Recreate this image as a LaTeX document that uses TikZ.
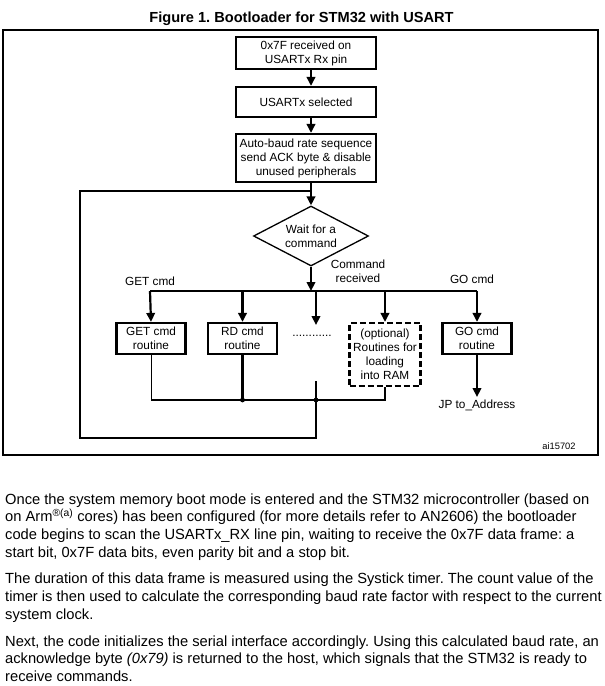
\documentclass[tikz,border=0pt]{standalone}
\usepackage{fontspec}
\setmainfont{Liberation Sans}
\usetikzlibrary{shapes.geometric,arrows.meta}
\newcommand{\dfont}{\fontsize{11.8}{14}\selectfont}
\newcommand{\bfont}{\fontsize{14.7}{18}\selectfont}
\newcommand{\tfont}{\fontsize{14.6}{17}\selectfont\bfseries}
\frenchspacing
\begin{document}
\begin{tikzpicture}[x=1pt,y=-1pt,
  ln/.style={line width=2.2pt},
  thinln/.style={line width=1pt},
  arr/.style={line width=2.2pt,-{Triangle[length=9pt,width=8.5pt]}},
  box/.style={draw,line width=2.2pt,minimum width=140pt,inner sep=0pt,align=center,font=\dfont},
  sbox/.style={draw,line width=2.2pt,minimum width=69pt,minimum height=31pt,inner sep=0pt,align=center,font=\dfont},
  dbox/.style={draw,line width=2.2pt,dash pattern=on 6pt off 3pt,minimum width=71pt,minimum height=63pt,inner sep=0pt,align=center,font=\dfont},
  dia/.style={draw,diamond,aspect=2,line width=1.3pt,minimum width=115pt,minimum height=60pt,inner sep=0pt,align=center,font=\dfont},
  lbl/.style={inner sep=0pt,align=center,font=\dfont},
  para/.style={anchor=base west,inner sep=0pt,font=\bfont}]
\useasboundingbox (0,0) rectangle (605,686);
% title and frame
\node[anchor=base,inner sep=0pt,font=\tfont] (title) at (301.5,22.5) {Figure 1. Bootloader for STM32 with USART};
\draw[line width=1.2pt] (3,30) rectangle (598,455);
% spine
\coordinate (sp) at (311,0);
\node[box,minimum height=32pt] (b1) at (306,53) {0x7F received on\\USARTx Rx pin};
\node[box,minimum height=30pt] (b2) at (306,102) {USARTx selected};
\node[box,minimum height=48pt] (b3) at (306,158) {Auto-baud rate sequence\\send ACK byte \& disable\\unused peripherals};
\node[dia] (d) at (311,236) {Wait for a\\command};
\draw[arr] (b1.south -| sp) -- (b2.north -| sp);
\draw[arr] (b2.south -| sp) -- (b3.north -| sp);
\draw[arr] (b3.south -| sp) -- (d.north);
% bus
\coordinate (busL) at (150,291);
\coordinate (busR) at (477,291);
\draw[arr] (d.south) -- (d.south |- busL);
\draw[ln] (busL) -- (busR);
\node[lbl] (getl) at (150,281) {GET cmd};
\node[lbl] (cmdl) at (358,271) {Command\\received};
\node[lbl] (gol) at (472,279) {GO cmd};
% routines
\node[sbox] (get) at (151,338.5) {GET cmd\\routine};
\node[sbox] (rd) at (242.5,338.5) {RD cmd\\routine};
\node[lbl] (dots) at (312,336) {............};
\node[dbox] (opt) at (385,354.5) {(optional)\\Routines for\\loading\\into RAM};
\node[sbox] (go) at (477,338.5) {GO cmd\\routine};
\coordinate (dtop) at (316,325);
\draw[arr] (busL) -- (get.north);
\draw[arr] (rd.north |- busL) -- (rd.north);
\draw[arr] (dtop |- busL) -- (dtop);
\draw[arr] (opt.north |- busL) -- (opt.north);
\draw[arr] (go.north |- busL) -- (go.north);
% JP
\node[lbl,anchor=north] (jp) at (477,400) {JP to\_Address};
\draw[arr,shorten >=3pt] (go.south) -- (jp.north);
% return paths
\coordinate (low) at (0,400);
\draw[thinln] (get.south) -- (get.south |- low);
\draw[ln] (get.south |- low) -- (opt.south |- low) -- (opt.south);
\draw[ln] (rd.south) -- (rd.south |- low);
\fill (rd.south |- low) circle (2.4pt);
\coordinate (dbot) at (316,381);
\coordinate (loopB) at (316,438);
\coordinate (loopL) at (80,438);
\coordinate (loopT) at (80,191);
\draw[ln] (dbot) -- (loopB) -- (loopL) -- (loopT) -- (loopT -| sp);
\fill (dbot |- low) circle (2.4pt);
\node[lbl,font=\fontsize{9.3}{11}\selectfont] (ai) at (559,446) {ai15702};
% paragraphs
\node[para] (p1) at (5,504) {Once the system memory boot mode is entered and the STM32 microcontroller (based on};
\node[para] (p2) at (5,521.5) {on Arm\textsuperscript{®(a)} cores) has been configured (for more details refer to AN2606) the bootloader};
\node[para] (p3) at (5,539.5) {code begins to scan the USARTx\_RX line pin, waiting to receive the 0x7F data frame: a};
\node[para] (p4) at (5,557.5) {start bit, 0x7F data bits, even parity bit and a stop bit.};
\node[para] (p5) at (5,583) {The duration of this data frame is measured using the Systick timer. The count value of the};
\node[para] (p6) at (5,601) {timer is then used to calculate the corresponding baud rate factor with respect to the current};
\node[para] (p7) at (5,619) {system clock.};
\node[para] (p8) at (5,646) {Next, the code initializes the serial interface accordingly. Using this calculated baud rate, an};
\node[para] (p9) at (5,663.5) {acknowledge byte \textit{(0x79)} is returned to the host, which signals that the STM32 is ready to};
\node[para] (p10) at (5,681) {receive commands.};
\end{tikzpicture}
\end{document}
